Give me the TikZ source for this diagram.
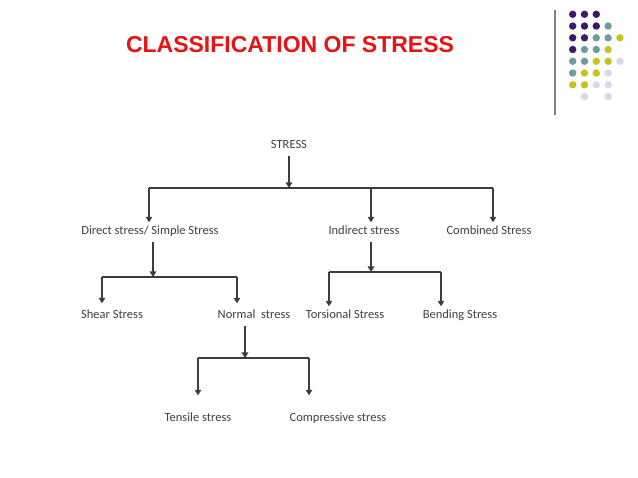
\documentclass[tikz,border=0pt]{standalone}
\usepackage{fontspec}
\setmainfont{Carlito}
\newfontfamily\titlefont{Liberation Sans}
\usetikzlibrary{arrows.meta,positioning}
\definecolor{titlered}{RGB}{232,18,18}
\definecolor{dotpurple}{RGB}{62,24,102}
\definecolor{dotteal}{RGB}{108,156,156}
\definecolor{dotyellow}{RGB}{196,196,26}
\definecolor{dotlilac}{RGB}{216,216,236}
\definecolor{treeline}{RGB}{60,60,60}

\begin{document}
\begin{tikzpicture}[
  x=1pt,y=-1pt,
  lbl/.style={font=\fontsize{12.5}{15}\selectfont,text=black!75,anchor=base,
    inner xsep=2pt,inner ysep=4pt,text height=8.5pt,text depth=2.5pt},
  link/.style={draw=treeline,line width=1.2pt},
  arr/.style={link,-{Triangle[width=6.5pt,length=5.5pt]}}
]
\useasboundingbox (0,0) rectangle (638,478);

% title and corner ornament
\node[font=\titlefont\bfseries\fontsize{23}{27}\selectfont,text=titlered] (title) at (290,45) {CLASSIFICATION OF STRESS};
\draw[gray,line width=1.4pt] (555,10) -- (555,115);
\foreach \col/\row/\clr in {0/0/dotpurple,1/0/dotpurple,2/0/dotpurple,
    0/1/dotpurple,1/1/dotpurple,2/1/dotpurple,3/1/dotteal,
    0/2/dotpurple,1/2/dotpurple,2/2/dotteal,3/2/dotteal,4/2/dotyellow,
    0/3/dotpurple,1/3/dotteal,2/3/dotteal,3/3/dotyellow,
    0/4/dotteal,1/4/dotteal,2/4/dotyellow,3/4/dotyellow,4/4/dotlilac,
    0/5/dotteal,1/5/dotyellow,2/5/dotyellow,3/5/dotlilac,
    0/6/dotyellow,1/6/dotyellow,2/6/dotlilac,3/6/dotlilac,
    1/7/dotlilac,3/7/dotlilac}
  \fill[\clr] (572.7+11.8*\col,14.3+11.75*\row) circle (3.7pt);

% tree labels
\node[lbl] (stress) at (289,149) {STRESS};
\node[lbl] (direct) at (150,235) {Direct stress/ Simple Stress};
\node[lbl] (indirect) at (364,235) {Indirect stress};
\node[lbl] (combined) at (489,235) {Combined Stress};
\node[lbl] (shear) at (112,319) {Shear Stress};
\node[lbl] (normal) at (254,319) {Normal~~stress};
\node[lbl] (torsional) at (345,319) {Torsional Stress};
\node[lbl] (bending) at (460,319) {Bending Stress};
\node[lbl] (tensile) at (198,422) {Tensile stress};
\node[lbl] (compressive) at (338,422) {Compressive stress};

% junctions
\coordinate (top) at (289,188);
\coordinate (topL) at (149,188);
\coordinate (topM) at (371,188);
\coordinate (topR) at (493,188);
\coordinate (dir) at (153,277);
\coordinate (dirL) at (102,277);
\coordinate (dirR) at (237,277);
\coordinate (ind) at (371,272);
\coordinate (indL) at (329,272);
\coordinate (indR) at (441,272);
\coordinate (nor) at (245,358);
\coordinate (norL) at (198,358);
\coordinate (norR) at (309,358);

% connectors
\draw[arr] (stress) -- (top);
\draw[link] (topL) -- (topR);
\draw[arr] (topL) -- (topL |- direct.north);
\draw[arr] (topM) -- (topM |- indirect.north);
\draw[arr] (topR) -- (topR |- combined.north);

\draw[arr] (dir |- direct.south) -- (dir);
\draw[link] (dirL) -- (dirR);
\draw[arr,shorten >=3pt] (dirL) -- (dirL |- shear.north);
\draw[arr,shorten >=3pt] (dirR) -- (dirR |- normal.north);

\draw[arr] (ind |- indirect.south) -- (ind);
\draw[link] (indL) -- (indR);
\draw[arr] (indL) -- (indL |- torsional.north);
\draw[arr] (indR) -- (indR |- bending.north);

\draw[arr] (nor |- normal.south) -- (nor);
\draw[link] (norL) -- (norR);
\draw[arr,shorten >=14pt] (norL) -- (norL |- tensile.north);
\draw[arr,shorten >=14pt] (norR) -- (norR |- compressive.north);
\end{tikzpicture}
\end{document}
